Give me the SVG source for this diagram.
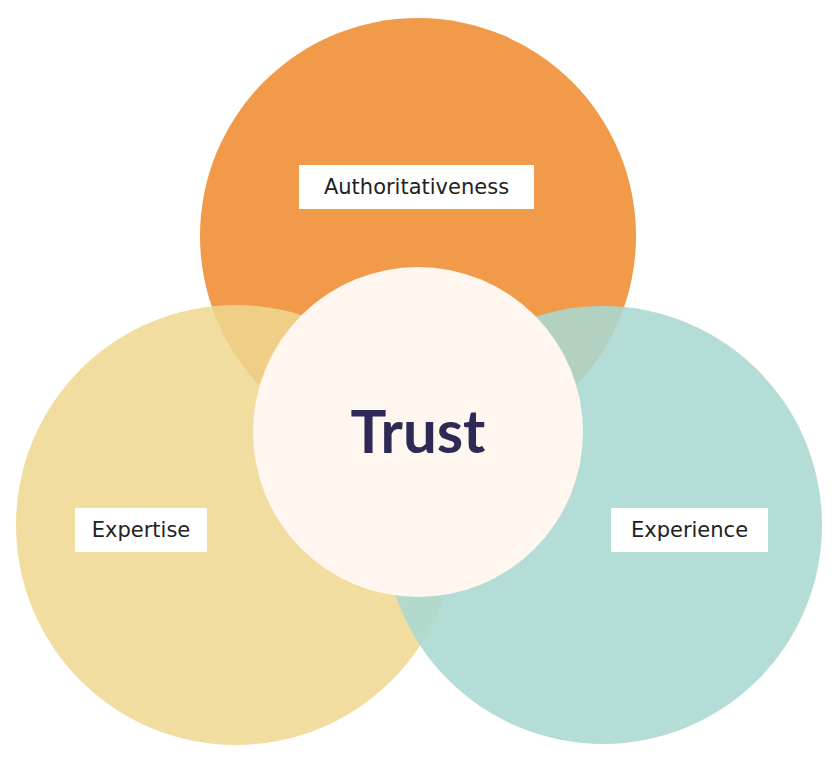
<svg xmlns="http://www.w3.org/2000/svg" width="834" height="766" viewBox="0 0 834 766">
<style>
.lbl{fill:#fff}
.t{font-family:"DejaVu Sans","Liberation Sans",sans-serif;font-size:21px;fill:#222;text-anchor:middle}
</style>
<rect width="834" height="766" fill="#fff"/>
<g id="authoritativeness">
<circle cx="418" cy="236" r="218" fill="#F09A4A"/>
</g>
<g id="expertise">
<circle cx="236" cy="525" r="220" fill="#EED78F" fill-opacity="0.85"/>
</g>
<g id="experience">
<circle cx="603" cy="525" r="219" fill="#A9D8D0" fill-opacity="0.88"/>
</g>
<g id="trust">
<circle cx="418" cy="432" r="165" fill="#FEF6EF"/>
<text x="418" y="453" font-family="Lato,'Liberation Sans',sans-serif" font-weight="bold" font-size="60" fill="#2E2A55" text-anchor="middle">Trust</text>
</g>
<g id="labels">
<rect class="lbl" x="299" y="165" width="235" height="44"/>
<text class="t" x="416.5" y="194">Authoritativeness</text>
<rect class="lbl" x="75" y="508" width="132" height="44"/>
<text class="t" x="141" y="537">Expertise</text>
<rect class="lbl" x="611" y="508" width="157" height="44"/>
<text class="t" x="689.5" y="537">Experience</text>
</g>
<g id="connectors"/>
</svg>
